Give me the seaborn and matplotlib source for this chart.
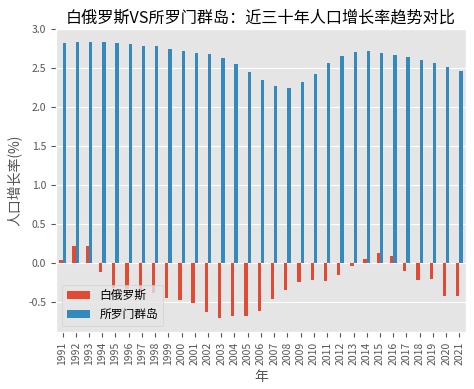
import matplotlib
matplotlib.use("Agg")
import matplotlib.pyplot as plt
import seaborn as sns
import pandas as pd

years = list(range(1991, 2022))
belarus = [0.04, 0.22, 0.22, -0.11, -0.32, -0.33, -0.37, -0.38, -0.45, -0.47,
           -0.51, -0.63, -0.70, -0.68, -0.68, -0.61, -0.46, -0.34, -0.24, -0.22,
           -0.23, -0.15, -0.03, 0.05, 0.13, 0.09, -0.10, -0.21, -0.20, -0.42, -0.42]
solomon = [2.82, 2.83, 2.83, 2.84, 2.82, 2.81, 2.79, 2.78, 2.75, 2.72,
           2.70, 2.68, 2.63, 2.55, 2.45, 2.35, 2.27, 2.25, 2.32, 2.43,
           2.56, 2.65, 2.71, 2.72, 2.70, 2.67, 2.64, 2.61, 2.56, 2.51, 2.46]
countries = ["白俄罗斯", "所罗门群岛"]
title = "白俄罗斯VS所罗门群岛：近三十年人口增长率趋势对比"
xlabel = "年"
ylabel = "人口增长率(%)"

plt.style.use("ggplot")
plt.rcParams["font.family"] = ["Noto Sans CJK SC", "DejaVu Sans"]
plt.rcParams["axes.unicode_minus"] = False

df = pd.DataFrame({"年": years, countries[0]: belarus, countries[1]: solomon})
long = df.melt(id_vars="年", var_name="国家", value_name="值")
long["年"] = long["年"].astype(str)

fig = plt.figure(figsize=(4.74, 3.89), dpi=100)
ax = fig.add_axes([0.118, 0.147, 0.865, 0.778])
sns.barplot(data=long, x="年", y="值", hue="国家", hue_order=countries,
            order=[str(y) for y in years],
            palette=["#E24A33", "#348ABD"], width=0.5, gap=0,
            saturation=1, ax=ax, errorbar=None)

ax.set_xlim(-0.5, len(years) - 0.5)
ax.set_ylim(-0.88, 3.0)
ax.set_yticks([-0.5, 0.0, 0.5, 1.0, 1.5, 2.0, 2.5, 3.0])
ax.tick_params(axis="x", labelrotation=90, labelsize=7.5, colors="#555555")
ax.tick_params(axis="y", labelsize=7.5, colors="#555555")
ax.set_title(title, fontsize=11.6, pad=5)
ax.set_xlabel(xlabel, fontsize=10, color="#555555")
ax.set_ylabel(ylabel, fontsize=10, color="#555555")
ax.legend(loc="lower left", fontsize=8.5, title=None)

fig.savefig("out.png", dpi=100)
